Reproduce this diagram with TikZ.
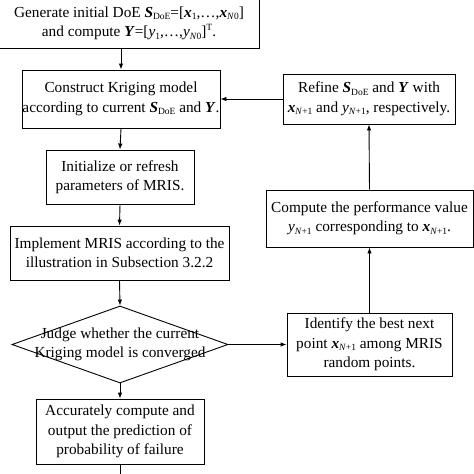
\documentclass[tikz,border=0pt]{standalone}
\usepackage{fontspec}
\setmainfont{Liberation Serif}
\usetikzlibrary{shapes.geometric,arrows.meta}
\newcommand{\bi}[1]{\textbf{\textit{#1}}}
\newcommand{\sub}[1]{\raisebox{-0.3ex}{\fontsize{9.5}{10}\selectfont #1}}
\newcommand{\sups}[1]{\raisebox{0.9ex}{\fontsize{9.5}{10}\selectfont #1}}
\begin{document}
\begin{tikzpicture}[x=1pt,y=-1pt,
  txt/.style={font=\fontsize{15.3}{19.5}\selectfont},
  box/.style={draw, line width=0.9pt, inner sep=0pt, align=center, txt},
  arr/.style={line width=0.9pt, -{Latex[length=6pt,width=4.5pt]}},
  ln/.style={line width=0.9pt}]
\useasboundingbox (0,0) rectangle (474,474);
\node[box, minimum width=260pt, minimum height=49pt] (b1) at (129,23.5)
  {Generate initial DoE \bi{S}\sub{DoE}=[\bi{x}\sub{1},\dots,\bi{x}\sub{\textit{N}0}]\\
   and compute \bi{Y}=[\textit{y}\sub{1},\dots,\textit{y}\sub{\textit{N}0}]\sups{T}.};
\node[box, minimum width=198pt, minimum height=58pt] (b2) at (121,99)
  {Construct Kriging model\\ according to current \bi{S}\sub{DoE} and \bi{Y}.};
\node[box, minimum width=148pt, minimum height=54pt] (b3) at (120,177)
  {Initialize or refresh\\ parameters of MRIS.};
\node[box, minimum width=219pt, minimum height=54pt] (b4) at (119.5,253)
  {Implement MRIS according to the\\ illustration in Subsection 3.2.2};
\node[diamond, draw, line width=0.9pt, inner sep=0pt, minimum width=216pt, minimum height=77pt] (d) at (120,344.5) {};
\node[align=center, inner sep=0pt, txt] (dt) at (d.center)
  {Judge whether the current\\ Kriging model is converged};
\node[box, minimum width=168pt, minimum height=65pt] (b5) at (120,431.5)
  {Accurately compute and\\ output the prediction of\\ probability of failure};
\node[box, minimum width=172pt, minimum height=50pt] (r1) at (369,99)
  {Refine \bi{S}\sub{DoE} and \bi{Y} with\\ \bi{x}\sub{\textit{N}+1} and \textit{y}\sub{\textit{N}+1}, respectively.};
\node[box, minimum width=207pt, minimum height=57pt] (r2) at (369.5,218.5)
  {Compute the performance value\\ \textit{y}\sub{\textit{N}+1} corresponding to \bi{x}\sub{\textit{N}+1}.};
\node[box, minimum width=165pt, minimum height=63pt] (r3) at (369.5,344.5)
  {Identify the best next\\ point \bi{x}\sub{\textit{N}+1} among MRIS\\ random points.};
\coordinate (end) at (120,480);
\draw[arr] (b2.north |- b1.south) -- (b2.north);
\draw[arr] (b2.south) -- (b3.north);
\draw[arr] (b3.south) -- (b4.north);
\draw[arr] (b4.south) -- (d.north);
\draw[arr] (d.south) -- (b5.north);
\draw[ln] (b5.south) -- (end);
\draw[arr] (d.east) -- (r3.west);
\draw[arr] (r3.north) -- (r2.south);
\draw[arr] (r2.north) -- (r1.south);
\draw[arr] (r1.west) -- (b2.east);
\end{tikzpicture}
\end{document}
